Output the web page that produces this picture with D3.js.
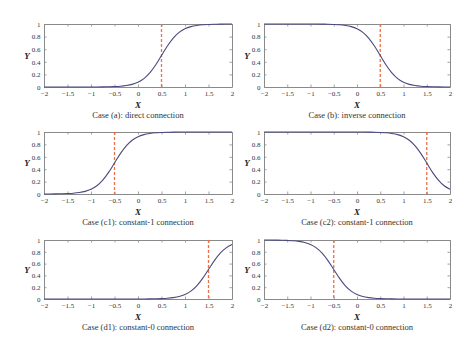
<!DOCTYPE html>
<html>
<head>
<meta charset="utf-8">
<script src="https://cdn.jsdelivr.net/npm/d3@7"></script>
<style>
  html, body { margin: 0; padding: 0; background: #fff; }
  #chart { width: 474px; height: 353px; }
  text { font-family: "Liberation Serif", "DejaVu Serif", serif; }
</style>
</head>
<body>
<div id="chart"></div>
<script>
// x samples shared by every panel (step 0.125)
const xs = d3.range(33).map(i => -2 + i * 0.125);

// values
const yA  = [0,0,0,0,0,0,0,0,0.001,0.001,0.002,0.004,0.007,0.012,0.023,0.042,0.076,0.133,0.223,0.349,0.5,0.651,0.777,0.867,0.924,0.958,0.977,0.988,0.993,0.996,0.998,0.999,0.999];
const yB  = [1,1,1,1,1,1,1,1,0.999,0.999,0.998,0.996,0.993,0.988,0.977,0.958,0.924,0.867,0.777,0.651,0.5,0.349,0.223,0.133,0.076,0.042,0.023,0.012,0.007,0.004,0.002,0.001,0.001];
const yC1 = [0.001,0.001,0.002,0.004,0.007,0.012,0.023,0.042,0.076,0.133,0.223,0.349,0.5,0.651,0.777,0.867,0.924,0.958,0.977,0.988,0.993,0.996,0.998,0.999,0.999,1,1,1,1,1,1,1,1];
const yC2 = [1,1,1,1,1,1,1,1,1,1,1,1,1,1,1,1,0.999,0.999,0.998,0.996,0.993,0.988,0.977,0.958,0.924,0.867,0.777,0.651,0.5,0.349,0.223,0.133,0.076];
const yD1 = [0,0,0,0,0,0,0,0,0,0,0,0,0,0,0,0,0.001,0.001,0.002,0.004,0.007,0.012,0.023,0.042,0.076,0.133,0.223,0.349,0.5,0.651,0.777,0.867,0.924];
const yD2 = [0.999,0.999,0.998,0.996,0.993,0.988,0.977,0.958,0.924,0.867,0.777,0.651,0.5,0.349,0.223,0.133,0.076,0.042,0.023,0.012,0.007,0.004,0.002,0.001,0.001,0,0,0,0,0,0,0,0];

const series = [yA, yB, yC1, yC2, yD1, yD2];
const thresholds = [0.5, 0.5, -0.5, 1.5, 1.5, -0.5];
const captions = [
  "Case (a): direct connection",
  "Case (b): inverse connection",
  "Case (c1): constant-1 connection",
  "Case (c2): constant-1 connection",
  "Case (d1): constant-0 connection",
  "Case (d2): constant-0 connection"
];
const xTicks = [-2, -1.5, -1, -0.5, 0, 0.5, 1, 1.5, 2];
const yTicks = [0, 0.2, 0.4, 0.6, 0.8, 1];

function draw() {
  const svg = d3.select("#chart").append("svg")
    .attr("width", 474).attr("height", 353);

  // panel boxes: columns and rows
  const cols = [{ x0: 44, x1: 232 }, { x0: 264, x1: 450 }];
  const rows = [{ y0: 24, y1: 87 }, { y0: 132, y1: 194 }, { y0: 240, y1: 299 }];

  const fmt = d3.format("~g");

  series.forEach((ys, i) => {
    const c = cols[i % 2], r = rows[Math.floor(i / 2)];
    const w = c.x1 - c.x0, h = r.y1 - r.y0;

    const x = d3.scaleLinear().domain([-2, 2]).range([0, w]);
    const y = d3.scaleLinear().domain([0, 1]).range([h, 0]);

    const g = svg.append("g").attr("transform", `translate(${c.x0},${r.y0})`);

    // box with inward ticks on all sides
    g.append("g").attr("transform", `translate(0,${h})`)
      .call(d3.axisBottom(x).tickValues(xTicks).tickFormat(fmt).tickSizeInner(-2.5).tickSizeOuter(0).tickPadding(4));
    g.append("g")
      .call(d3.axisLeft(y).tickValues(yTicks).tickFormat(fmt).tickSizeInner(-2.5).tickSizeOuter(0).tickPadding(3.5));
    g.append("g")
      .call(d3.axisTop(x).tickValues(xTicks).tickFormat("").tickSizeInner(-2.5).tickSizeOuter(0));
    g.append("g").attr("transform", `translate(${w},0)`)
      .call(d3.axisRight(y).tickValues(yTicks).tickFormat("").tickSizeInner(-2.5).tickSizeOuter(0));

    g.selectAll(".domain").attr("stroke", "#8a8a8a").attr("stroke-width", 1);
    g.selectAll(".tick line").attr("stroke", "#8a8a8a").attr("stroke-width", 0.8);
    g.selectAll(".tick text").attr("fill", "#333").style("font-size", "7px")
      .style("font-family", "'Liberation Serif', 'DejaVu Serif', serif");

    // threshold
    g.append("line")
      .attr("x1", x(thresholds[i])).attr("x2", x(thresholds[i]))
      .attr("y1", 0).attr("y2", h)
      .attr("stroke", "#ee7048").attr("stroke-width", 1.3)
      .attr("stroke-dasharray", "3,2");

    // curve
    const line = d3.line()
      .x((d, k) => x(xs[k]))
      .y(d => y(d))
      .curve(d3.curveMonotoneX);
    g.append("path")
      .datum(ys)
      .attr("fill", "none")
      .attr("stroke", "#4b4a7e")
      .attr("stroke-width", 1.1)
      .attr("d", line);

    // labels
    g.append("text")
      .attr("x", -17).attr("y", h / 2 + 3)
      .attr("text-anchor", "middle")
      .style("font-size", "9px").style("font-style", "italic").style("font-weight", "bold")
      .attr("fill", "#222")
      .text("Y");
    g.append("text")
      .attr("x", w / 2).attr("y", h + 21)
      .attr("text-anchor", "middle")
      .style("font-size", "9px").style("font-style", "italic").style("font-weight", "bold")
      .attr("fill", "#222")
      .text("X");
    g.append("text")
      .attr("x", w / 2).attr("y", h + 31)
      .attr("text-anchor", "middle")
      .style("font-size", "8.5px")
      .attr("fill", "#333")
      .text(captions[i]);
  });
}

draw();
</script>
</body>
</html>
